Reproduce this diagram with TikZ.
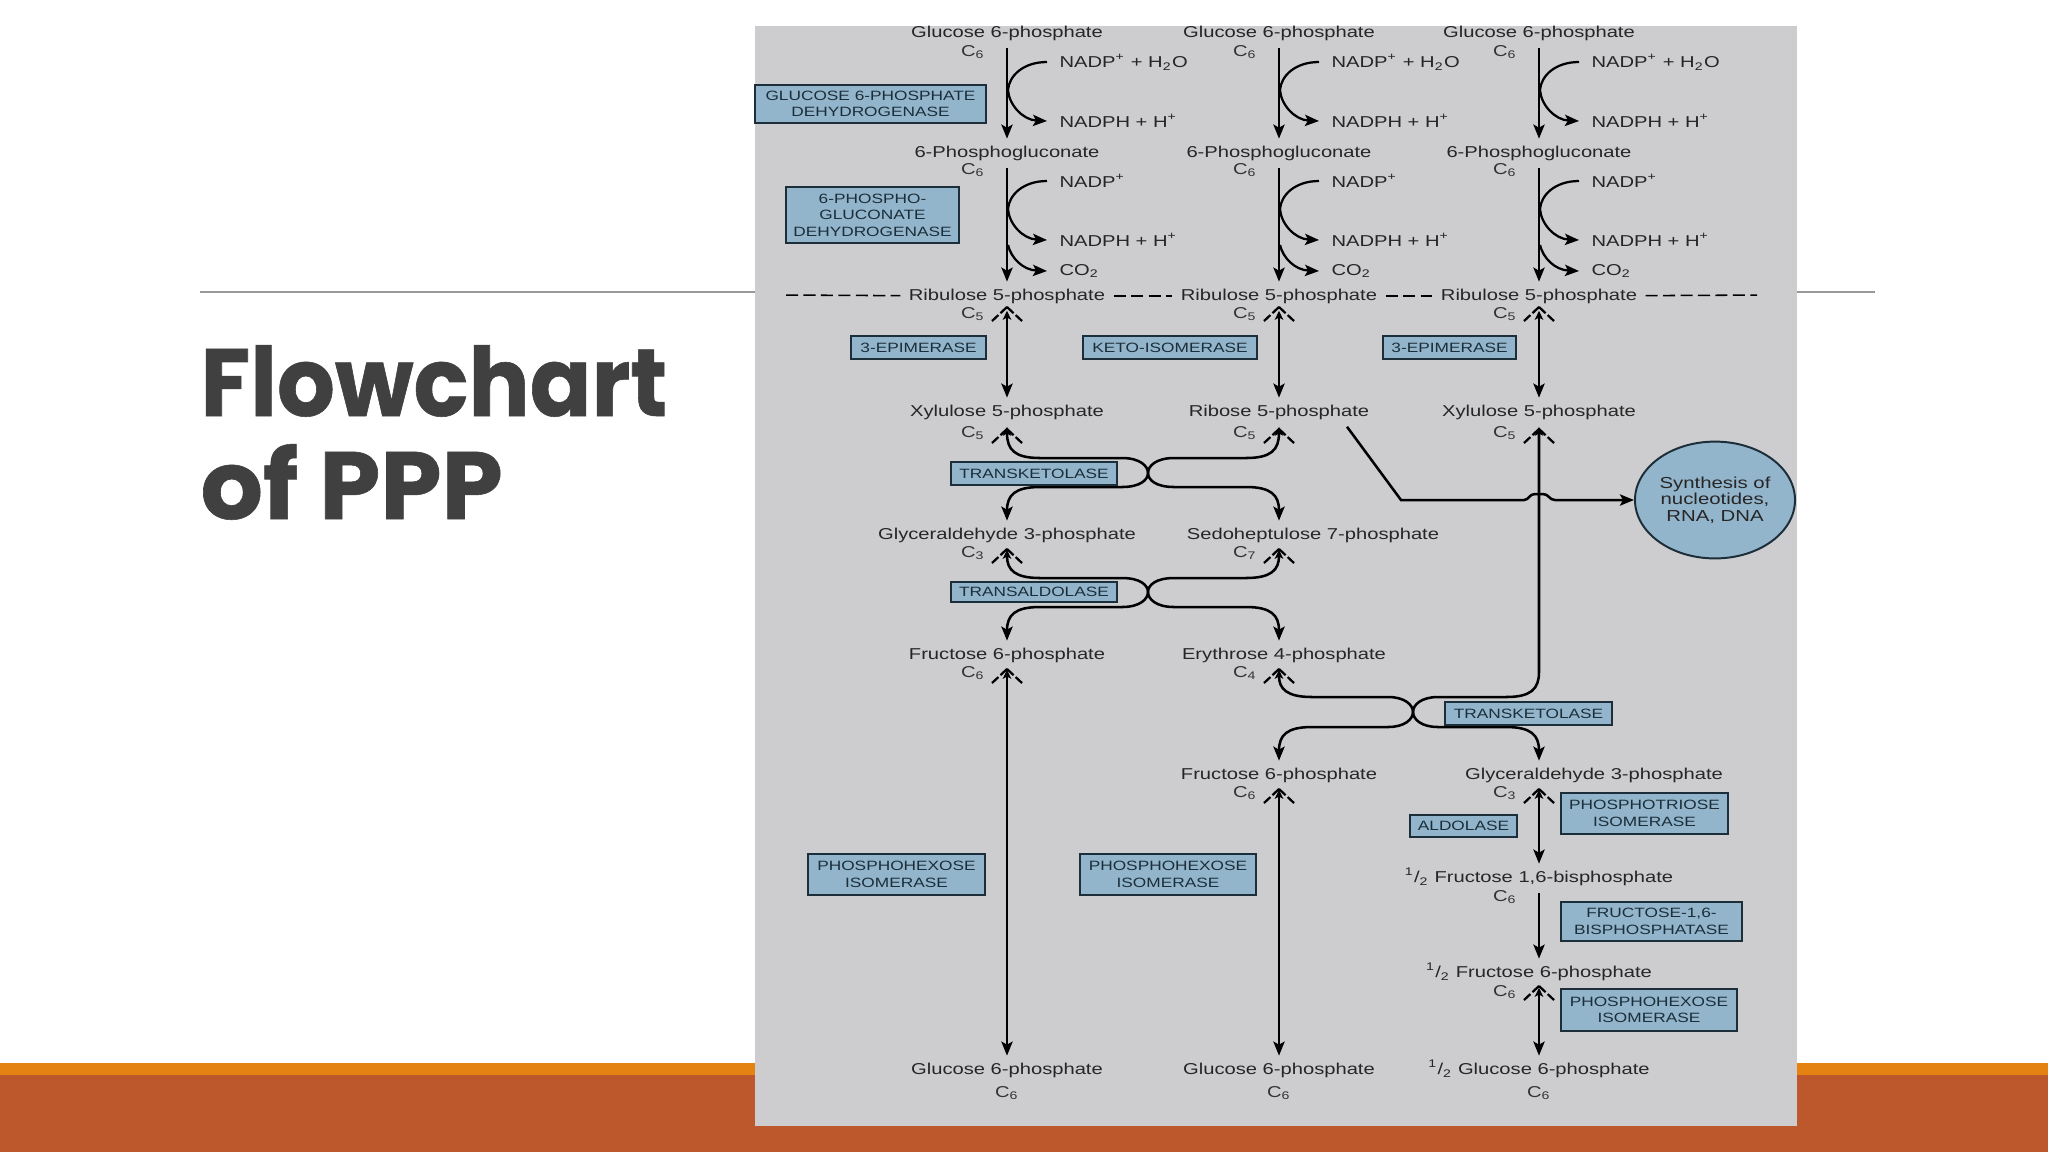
\documentclass[tikz,border=0pt]{standalone}
\usepackage{fontspec}
\usepackage{xcolor}
\usetikzlibrary{arrows.meta,shapes.geometric}
\setmainfont{Liberation Sans}[FakeStretch=1.28]
\newfontfamily\titlefont{Poppins}[FakeStretch=0.95,BoldFeatures={FakeBold=0.6}]
\definecolor{panelgray}{HTML}{CDCCCE}
\definecolor{enzblue}{HTML}{93B5CB}
\definecolor{enzline}{HTML}{1B2E3A}
\definecolor{rustband}{HTML}{BD582C}
\definecolor{orangeband}{HTML}{E48312}
\definecolor{titlegray}{HTML}{404040}
\tikzset{
  metab/.style={inner sep=0pt,minimum height=0.35cm,text height=4.2pt,text depth=1.2pt,yshift=-0.015cm,
    text=black!85,font=\fontsize{5.6}{6.7}\selectfont},
  clabel/.style={inner sep=0pt,text=black!80,font=\fontsize{5.6}{6.7}\selectfont},
  cofac/.style={anchor=west,inner xsep=0.15cm,inner ysep=0pt,text=black!85,font=\fontsize{5.6}{6.7}\selectfont},
  enzyme/.style={draw=enzline,fill=enzblue,line width=0.7pt,inner sep=0pt,align=center,
    text=enzline,font=\fontsize{4.8}{5.9}\selectfont},
  flow/.style={line width=0.9pt,->},
  both/.style={line width=0.9pt,{Stealth[length=3.2pt,width=3pt,inset=0.8pt]}->},
  side/.style={line width=0.8pt,->},
  tipdash/.style={line width=0.8pt,dash pattern=on 3.2pt off 1pt},
  rubdash/.style={line width=0.55pt,dash pattern=on 4.3pt off 1.9pt,shorten <=0.1cm,shorten >=0.1cm},
  titletext/.style={anchor=base west,inner sep=0pt,text=titlegray,font=\titlefont\bfseries\fontsize{34}{36}\selectfont}
}
\begin{document}
\begin{tikzpicture}[x=0.0125cm,y=-0.0125cm,>={Stealth[length=5pt,width=4pt,inset=1.1pt]}]
  \useasboundingbox (0,0) rectangle (2048,1152);
  % slide background
  \fill[white] (0,0) rectangle (2048,1152);
  \fill[orangeband] (0,1063) rectangle (2048,1075);
  \fill[rustband] (0,1075) rectangle (2048,1152);
  \draw[gray!80,line width=0.5pt] (200,292) -- (1875,292);
  \node[titletext] (titleone) at (200,416) {Flowchart};
  \node[titletext] (titletwo) at (200,519) {\scalebox{1.08}[1]{of PPP}};
  \fill[panelgray] (755,26) rectangle (1797,1126);
  \coordinate (cola) at (1007,0);
  \coordinate (colb) at (1279,0);
  \coordinate (colc) at (1539,0);

  % the three oxidative columns
  \foreach \c/\x in {a/1007,b/1279,c/1539} {
    \node[metab] (gsix\c) at (\x,32) {Glucose 6-phosphate};
    \node[metab] (pgn\c) at (\x,152) {6-Phosphogluconate};
    \node[metab] (rub\c) at (\x,295) {Ribulose 5-phosphate};
    \node[cofac] (nadpa\c) at (\x+40,62) {NADP\textsuperscript{+} + H\textsubscript{2}O};
    \node[cofac] (nadha\c) at (\x+40,121) {NADPH + H\textsuperscript{+}};
    \node[cofac] (nadpb\c) at (\x+40,181) {NADP\textsuperscript{+}};
    \node[cofac] (nadhb\c) at (\x+40,240) {NADPH + H\textsuperscript{+}};
    \node[cofac] (co\c) at (\x+40,271) {CO\textsubscript{2}};
    \draw[flow] (gsix\c) -- (pgn\c);
    \draw[flow] (pgn\c) -- (rub\c);
    \draw[side] (nadpa\c.west) .. controls (\x+16,62) and (\x+2,76) .. (\x+1,90)
      .. controls (\x+2,105) and (\x+16,120) .. (nadha\c.west);
    \draw[side] (nadpb\c.west) .. controls (\x+16,181) and (\x+2,195) .. (\x+1,209)
      .. controls (\x+2,224) and (\x+16,239) .. (nadhb\c.west);
    \draw[side] (\x+1,245) .. controls (\x+4,258) and (\x+16,270) .. (co\c.west);
  }
  \coordinate (dashleft) at (778,295);
  \coordinate (dashright) at (1765,295);
  \draw[rubdash] (dashleft) -- (ruba);
  \draw[rubdash] (ruba) -- (rubb);
  \draw[rubdash] (rubb) -- (rubc);
  \draw[rubdash] (rubc) -- (dashright);

  % the other metabolites
  \node[metab] (xyla) at (1007,411) {Xylulose 5-phosphate};
  \node[metab] (ribb) at (1279,411) {Ribose 5-phosphate};
  \node[metab] (xylc) at (1539,411) {Xylulose 5-phosphate};
  \node[metab] (gapa) at (1007,534) {Glyceraldehyde 3-phosphate};
  \node[metab] (sedb) at (1313,534) {Sedoheptulose 7-phosphate};
  \node[metab] (fsixa) at (1007,654) {Fructose 6-phosphate};
  \node[metab] (eryb) at (1284,654) {Erythrose 4-phosphate};
  \node[metab] (fsixb) at (1279,774) {Fructose 6-phosphate};
  \node[metab] (gapc) at (1594,774) {Glyceraldehyde 3-phosphate};
  \node[metab] (fbpc) at (1539,877) {\textsuperscript{1}/\textsubscript{2} Fructose 1,6-bisphosphate};
  \node[metab] (fsixc) at (1539,972) {\textsuperscript{1}/\textsubscript{2} Fructose 6-phosphate};
  \node[metab] (gendc) at (1539,1069) {\textsuperscript{1}/\textsubscript{2} Glucose 6-phosphate};
  \node[metab] (genda) at (1007,1069) {Glucose 6-phosphate};
  \node[metab] (gendb) at (1279,1069) {Glucose 6-phosphate};

  % carbon counts
  \foreach \x/\y/\s [count=\i] in {973/52/6,973/170/6,973/314/5,973/433/5,973/553/3,973/673/6,
    1245/52/6,1245/170/6,1245/314/5,1245/433/5,1245/553/7,1245/673/4,1245/793/6,
    1505/52/6,1505/170/6,1505/314/5,1505/433/5,1505/793/3,1505/897/6,1505/992/6,
    1007/1093/6,1279/1093/6,1539/1093/6} {
    \node[clabel] (carbon\i) at (\x,\y) {C\textsubscript{\s}};
  }

  % straight steps
  \draw[both] (ruba) -- (xyla);
  \draw[both] (rubb) -- (ribb);
  \draw[both] (rubc) -- (xylc);
  \draw[both] (fsixa) -- (genda);
  \draw[both] (fsixb) -- (gendb);
  \draw[both] (gapc.south -| colc) -- (fbpc);
  \draw[flow] (fbpc) -- (fsixc);
  \draw[both] (fsixc) -- (gendc);

  % the two crossings on the left
  \foreach \ta/\tb/\ba/\bb/\yt/\ym/\yb in {xyla/ribb/gapa/sedb/458/473/487,gapa/sedb/fsixa/eryb/578/592/607} {
    \draw[both] (\ta.south) .. controls (1007,\yt-8) and (1015,\yt) .. (1040,\yt) -- (1122,\yt)
      .. controls (1140,\yt) and (1148,\ym-7) .. (1148,\ym)
      .. controls (1148,\ym+7) and (1140,\yb) .. (1122,\yb) -- (1040,\yb)
      .. controls (1015,\yb) and (1007,\yb+8) .. (\ba.north);
    \draw[both] (\tb.south -| colb) .. controls (1279,\yt-8) and (1271,\yt) .. (1246,\yt) -- (1174,\yt)
      .. controls (1156,\yt) and (1148,\ym-7) .. (1148,\ym)
      .. controls (1148,\ym+7) and (1156,\yb) .. (1174,\yb) -- (1246,\yb)
      .. controls (1271,\yb) and (1279,\yb+8) .. (\bb.north -| colb);
  }
  % the crossing on the right
  \draw[both] (eryb.south -| colb) .. controls (1279,689) and (1287,697) .. (1312,697) -- (1388,697)
    .. controls (1405,697) and (1413,705) .. (1413,712)
    .. controls (1413,719) and (1405,727) .. (1388,727) -- (1312,727)
    .. controls (1287,727) and (1279,735) .. (fsixb.north);
  \draw[both] (xylc) -- (1539,672) .. controls (1539,689) and (1531,697) .. (1506,697) -- (1438,697)
    .. controls (1421,697) and (1413,705) .. (1413,712)
    .. controls (1413,719) and (1421,727) .. (1438,727) -- (1506,727)
    .. controls (1531,727) and (1539,735) .. (gapc.north -| colc);

  % dashed shoulders of the reversible steps
  \foreach \x/\y in {1007/307,1007/429,1007/549,1007/669,1279/307,1279/429,1279/549,1279/669,1279/789,
    1539/307,1539/429,1539/789,1539/986} {
    \draw[tipdash] (\x,\y) -- (\x-15,\y+14);
    \draw[tipdash] (\x,\y) -- (\x+15,\y+14);
  }

  % branch to synthesis
  \node[draw=enzline,fill=enzblue,ellipse,line width=0.7pt,minimum width=2cm,minimum height=1.46cm,
    inner sep=0pt,align=center,text=black!85,font=\fontsize{5.66}{5.85}\selectfont] (synth) at (1715,500)
    {Synthesis of\\nucleotides,\\RNA, DNA};
  \draw[flow] ([xshift=0.85cm]ribb.south) -- (1401,500) -- (1524,500)
    .. controls (1529,500) and (1529,494) .. (1535,494) -- (1543,494)
    .. controls (1549,494) and (1549,500) .. (1555,500) -- (synth.west);

  % enzymes, over the lines
  \foreach \n/\x/\y/\w/\h/\t in {
    gpd/870.5/104/231/38/{GLUCOSE 6-PHOSPHATE\\DEHYDROGENASE},
    pgd/872.5/215/173/56/{6-PHOSPHO-\\GLUCONATE\\DEHYDROGENASE},
    epia/918.5/347.5/135/23/{3-EPIMERASE},
    keto/1170/347.5/174/23/{KETO-ISOMERASE},
    epic/1449.5/347.5/133/23/{3-EPIMERASE},
    tkla/1034/473.5/166/23/{TRANSKETOLASE},
    tal/1034/592/166/20/{TRANSALDOLASE},
    tklc/1528.5/713.5/167/23/{TRANSKETOLASE},
    aldo/1463.5/826/107/22/{ALDOLASE},
    tpi/1644.5/813.5/167/41/{PHOSPHOTRIOSE\\ISOMERASE},
    fbpase/1651.5/921.5/181/39/{FRUCTOSE-1,6-\\BISPHOSPHATASE},
    phic/1649/1010/176/42/{PHOSPHOHEXOSE\\ISOMERASE},
    phia/896.5/874.5/177/41/{PHOSPHOHEXOSE\\ISOMERASE},
    phib/1168/874.5/176/41/{PHOSPHOHEXOSE\\ISOMERASE}} {
    \node[enzyme,minimum width=\w*0.0125cm,minimum height=\h*0.0125cm] (\n) at (\x,\y) {\t};
  }
\end{tikzpicture}
\end{document}
